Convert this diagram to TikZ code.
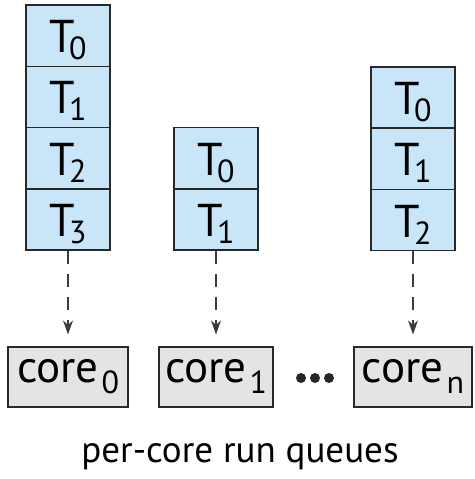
\documentclass[tikz,border=0pt]{standalone}
\usepackage{fontspec}
\setmainfont{PT Sans}
\usetikzlibrary{arrows.meta}
\definecolor{cellblue}{RGB}{200,230,248}
\definecolor{coregray}{RGB}{228,228,228}
\definecolor{edgegray}{RGB}{40,40,40}
\definecolor{arrowgray}{RGB}{60,60,60}
\newcommand{\Tsub}[1]{T\kern-6pt\raisebox{-7pt}{\fontsize{32}{32}\selectfont #1}}
\newcommand{\coresub}[1]{core\kern3pt\raisebox{-11pt}{\fontsize{32}{32}\selectfont #1}}
\begin{document}
\begin{tikzpicture}[x=1pt,y=-1pt,
  cell/.style={draw=edgegray,line width=1.5pt,fill=cellblue,minimum width=84pt,minimum height=61.3pt,inner sep=0pt,
    font=\fontsize{46}{46}\selectfont,text height=38pt,text depth=4pt},
  corebox/.style={draw=edgegray,line width=1.2pt,fill=coregray,minimum height=60pt,inner sep=0pt,
    font=\fontsize{45}{45}\selectfont,text height=30pt,text depth=20pt},
  feed/.style={draw=arrowgray,line width=1.2pt,dash pattern=on 13pt off 10pt,
    -{Stealth[length=14pt,width=10pt]},shorten >=12pt},
  caption/.style={font=\fontsize{37}{37}\selectfont,anchor=base,inner sep=0pt}]
\useasboundingbox (0,0) rectangle (474,479);
% left stack
\node[cell] (a0) at (68,35.6) {\Tsub{0}};
\node[cell] (a1) at (68,96.9) {\Tsub{1}};
\node[cell] (a2) at (68,158.2) {\Tsub{2}};
\node[cell] (a3) at (68,219.5) {\Tsub{3}};
% middle stack
\node[cell] (b0) at (216,158.2) {\Tsub{0}};
\node[cell] (b1) at (216,219.5) {\Tsub{1}};
% right stack
\node[cell] (c0) at (413,97.4) {\Tsub{0}};
\node[cell] (c1) at (413,158.7) {\Tsub{1}};
\node[cell] (c2) at (413,220) {\Tsub{2}};
% cores
\node[corebox,minimum width=120pt] (k0) at (68,377) {\coresub{0}};
\node[corebox,minimum width=114pt] (k1) at (216,377) {\coresub{1}};
\node[corebox,minimum width=118pt] (kn) at (413,377) {\coresub{n}};
% arrows
\draw[feed] (a3.south) -- (k0.north -| a3.south);
\draw[feed] (b1.south) -- (k1.north -| b1.south);
\draw[feed] (c2.south) -- (kn.north -| c2.south);
% dots
\fill[black!85] (301,378) circle (5pt) (315,378) circle (5pt) (329,378) circle (5pt);
% caption
\node[caption] (cap) at (240,462) {per-core run queues};
\end{tikzpicture}
\end{document}
